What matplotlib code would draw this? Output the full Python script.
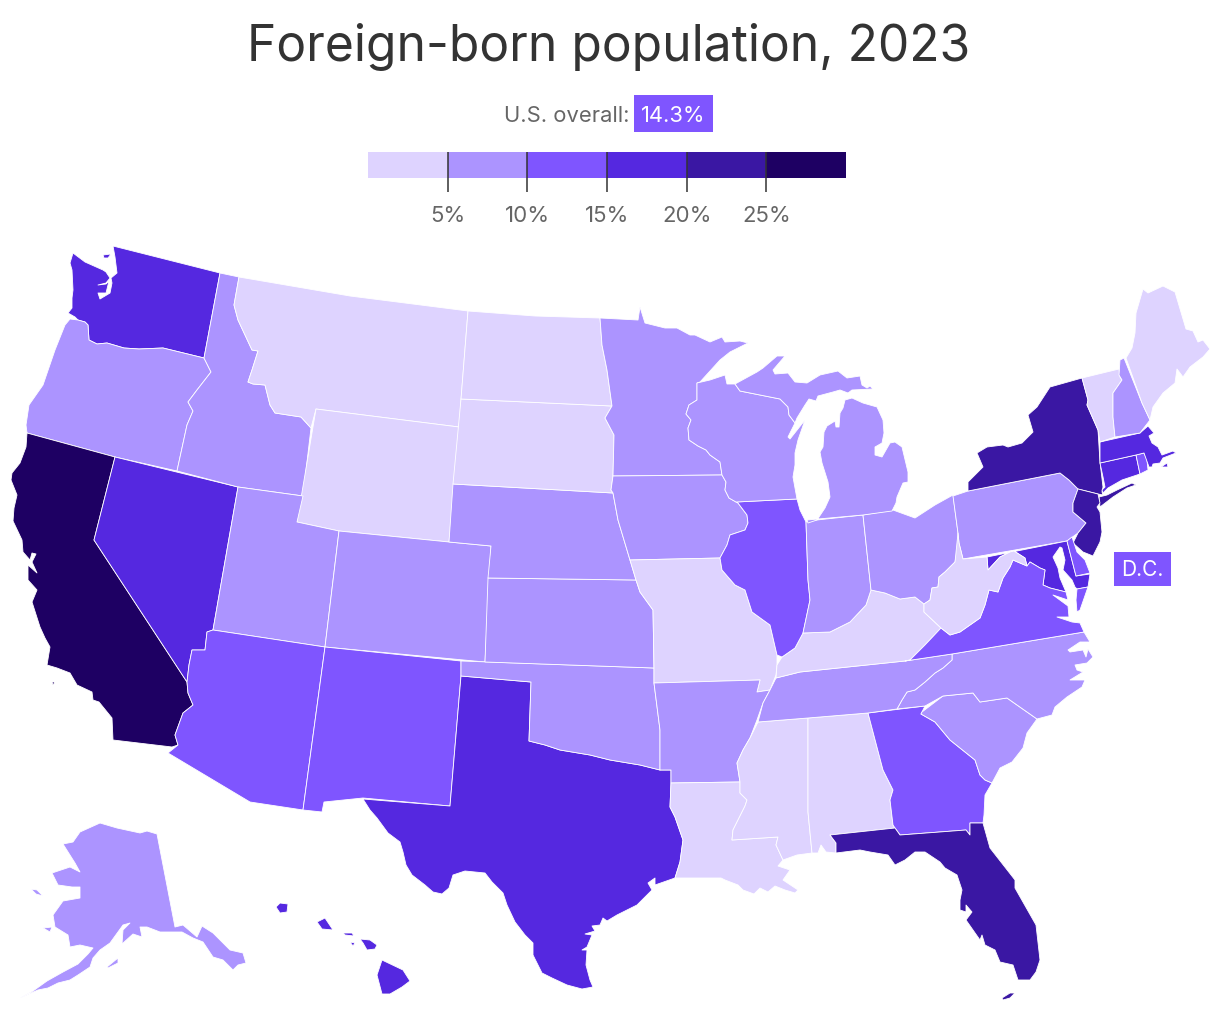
import matplotlib
matplotlib.use('Agg')
import matplotlib.pyplot as plt
from matplotlib.colors import ListedColormap, BoundaryNorm
from matplotlib.patches import Polygon, Rectangle

# bins and colours of the scale
bin_edges = [0, 5, 10, 15, 20, 25, 30]
bin_colors = ['#ded3ff', '#ac94ff', '#7f55ff', '#5528e0', '#3a17a3', '#1e0063']
tick_values = [5, 10, 15, 20, 25]
tick_labels = ['5%', '10%', '15%', '20%', '25%']
us_overall = 14.3
dc_value = 13.5

# share of foreign-born residents
pct = {'AL': 3.9, 'AK': 8.6, 'AZ': 13.3, 'AR': 5.9, 'CA': 26.6, 'CO': 9.6, 'CT': 15.9, 'DE': 10.5,
       'FL': 22.0, 'GA': 11.0, 'HI': 18.6, 'ID': 6.0, 'IL': 14.6, 'IN': 5.9, 'IA': 6.0, 'KS': 7.6,
       'KY': 4.3, 'LA': 4.4, 'ME': 3.9, 'MD': 16.6, 'MA': 18.0, 'MI': 7.0, 'MN': 8.9, 'MS': 2.4,
       'MO': 4.3, 'MT': 2.4, 'NE': 7.5, 'NV': 19.5, 'NH': 6.3, 'NJ': 24.0, 'NM': 10.2, 'NY': 22.7,
       'NC': 8.6, 'ND': 4.7, 'OH': 5.2, 'OK': 6.5, 'OR': 9.9, 'PA': 7.2, 'RI': 14.3, 'SC': 5.6,
       'SD': 3.7, 'TN': 5.5, 'TX': 17.5, 'UT': 8.5, 'VT': 4.0, 'VA': 12.9, 'WA': 15.7, 'WV': 1.7,
       'WI': 5.2, 'WY': 3.3}

WA = [[(113,246),(220,273),(204,358),(163,348),(139,349),(124,348),(107,343),(97,344),(89,340),(88,325),(85,322),(78,320),(75,317),(68,313),(72,308),(72,298),(73,290),(72,270),(70,263),(73,253),(85,262),(103,270),(106,272),(110,278),(106,283),(98,285),(106,284),(109,281),(106,293),(98,293),(100,299),(110,293),(112,283),(111,278),(117,273),(115,257)],
      [(103,255),(111,254),(108,258),(104,258)]]
OR = [[(204,358),(211,372),(197,390),(188,402),(193,411),(187,425),(177,471),(115,457),(27,433),(26,425),(29,405),(43,385),(55,350),(65,325),(70,319),(78,320),(85,322),(88,325),(89,340),(97,344),(107,343),(124,348),(139,349),(163,348)]]
CA = [[(27,433),(115,457),(94,540),(187,682),(188,693),(193,705),(183,713),(175,735),(178,745),(172,747),(113,740),(112,718),(99,702),(93,700),(92,692),(77,685),(70,673),(57,668),(47,665),(50,647),(45,638),(40,627),(32,602),(37,590),(28,580),(28,565),(37,573),(32,562),(36,554),(32,553),(30,560),(23,552),(22,540),(13,521),(14,508),(17,495),(11,480),(12,473),(20,463),(26,447)],
      [(52,682),(55,682),(53,685)]]
NV = [[(115,457),(238,487),(213,630),(207,632),(205,650),(192,650),(189,665),(187,682),(94,540)]]
ID = [[(220,273),(239,277),(234,305),(238,320),(245,335),(252,350),(258,351),(252,370),(248,382),(253,384),(265,385),(270,405),(275,413),(301,417),(311,428),(303,496),(238,487),(177,471),(187,425),(193,411),(188,402),(197,390),(211,372),(204,358)]]
MT = [[(239,277),(350,296),(468,311),(461,400),(459,427),(316,409),(311,428),(301,417),(275,413),(270,405),(265,385),(253,384),(248,382),(252,370),(258,351),(252,350),(245,335),(238,320),(234,305)]]
WY = [[(316,409),(459,427),(449,542),(339,531),(297,522)]]
UT = [[(238,487),(303,496),(297,522),(339,531),(325,647),(213,630)]]
CO = [[(339,531),(449,542),(491,546),(485,662),(325,647)]]
AZ = [[(213,630),(325,647),(303,810),(250,802),(168,753),(178,745),(175,735),(183,713),(193,705),(188,693),(187,682),(189,665),(192,650),(205,650),(207,632)]]
NM = [[(325,647),(461,661),(461,676),(450,806),(363,798),(324,802),(322,812),(303,810)]]
TX = [[(461,676),(531,682),(529,741),(545,745),(560,750),(590,755),(610,760),(640,765),(660,770),(671,770),(671,783),(670,807),(675,817),(683,840),(680,862),(675,878),(655,885),(655,878),(648,883),(652,890),(647,895),(637,905),(617,915),(607,921),(603,918),(600,925),(592,926),(595,931),(585,934),(592,935),(587,947),(582,950),(587,950),(586,965),(590,980),(593,987),(582,989),(567,985),(552,978),(542,973),(533,955),(533,943),(525,935),(515,922),(507,905),(503,893),(492,882),(485,873),(465,871),(453,875),(449,888),(442,894),(433,892),(425,885),(412,875),(406,865),(403,852),(400,842),(388,833),(377,818),(370,810),(363,799),(450,806)]]
OK = [[(461,661),(654,668),(654,683),(660,730),(660,770),(640,765),(610,760),(590,755),(560,750),(545,745),(529,741),(531,682),(461,676)]]
KS = [[(488,578),(636,580),(640,592),(653,610),(654,668),(485,662)]]
NE = [[(453,484),(613,493),(618,520),(630,560),(636,580),(488,578),(491,546),(449,542)]]
SD = [[(461,399),(612,406),(605,418),(614,435),(613,476),(611,490),(613,493),(453,484)]]
ND = [[(468,311),(535,316),(600,318),(602,345),(607,370),(612,406),(461,399)]]
MN = [[(600,318),(638,320),(640,307),(645,323),(665,328),(677,328),(690,335),(695,335),(710,342),(722,337),(725,342),(740,341),(748,343),(730,352),(720,360),(700,382),(697,383),(697,400),(689,405),(686,414),(691,420),(688,428),(689,440),(698,446),(706,450),(710,455),(720,462),(722,475),(613,476),(614,435),(605,418),(612,406),(607,370),(602,345)]]
IA = [[(613,476),(722,475),(726,482),(725,490),(729,498),(738,503),(747,515),(748,523),(745,530),(730,535),(727,545),(720,558),(630,560),(618,520),(613,493),(611,490)]]
MO = [[(630,560),(720,558),(722,570),(735,585),(745,590),(752,612),(770,625),(777,655),(777,665),(776,675),(770,690),(757,692),(760,680),(654,683),(654,668),(653,610),(640,592),(636,580)]]
AR = [[(654,683),(760,680),(757,692),(770,690),(763,703),(757,720),(750,738),(743,750),(737,763),(740,782),(671,783),(671,770),(660,770),(660,730)]]
LA = [[(671,783),(740,782),(740,793),(747,800),(745,806),(733,830),(732,840),(778,837),(776,845),(783,860),(778,866),(790,870),(783,880),(798,890),(795,893),(785,890),(775,886),(768,892),(760,888),(754,894),(743,890),(738,885),(725,880),(721,878),(675,878),(680,862),(683,840),(675,817),(670,807)]]
MS = [[(758,722),(808,718),(808,812),(812,853),(797,855),(783,860),(776,845),(778,837),(732,840),(733,830),(745,806),(747,800),(740,793),(740,782),(737,763),(743,750),(750,738)]]
AL = [[(808,718),(868,713),(883,770),(893,790),(890,800),(893,825),(895,828),(830,835),(836,843),(836,853),(826,852),(821,845),(818,853),(812,853),(808,812)]]
GA = [[(868,713),(925,706),(921,714),(935,722),(950,740),(960,748),(975,760),(980,775),(985,780),(992,783),(985,795),(984,815),(983,823),(970,823),(970,835),(966,830),(900,835),(895,828),(893,825),(890,800),(893,790),(883,770)]]
FL = [[(830,835),(895,828),(900,835),(966,830),(970,835),(970,823),(983,823),(990,848),(1015,880),(1015,888),(1036,925),(1040,960),(1036,972),(1030,980),(1018,980),(1013,965),(1000,962),(995,950),(985,945),(982,935),(980,940),(966,920),(972,912),(966,905),(966,912),(960,910),(960,900),(962,890),(957,875),(945,868),(940,862),(925,852),(915,852),(905,860),(895,865),(888,855),(870,852),(860,850),(836,853),(836,843)],
      [(1002,998),(1010,993),(1015,993),(1010,998),(1003,1000)]]
SC = [[(922,712),(943,696),(973,693),(980,702),(1007,698),(1037,719),(1027,733),(1023,748),(1012,762),(1000,768),(992,783),(985,780),(980,775),(975,760),(960,748),(950,740),(935,722),(921,714)]]
NC = [[(952,654),(1084,632),(1090,642),(1080,642),(1068,650),(1070,652),(1083,650),(1086,657),(1088,649),(1093,657),(1087,663),(1075,665),(1077,670),(1083,672),(1070,680),(1085,680),(1082,687),(1067,697),(1055,707),(1052,715),(1037,719),(1007,698),(980,702),(973,693),(943,696),(925,706),(897,709),(902,700),(907,692),(915,690),(925,682),(935,673),(943,668),(952,660)]]
TN = [[(776,678),(800,672),(905,661),(952,654),(952,660),(943,668),(935,673),(925,682),(915,690),(907,692),(902,700),(897,709),(868,713),(808,718),(758,722),(763,703),(770,690)]]
KY = [[(777,665),(782,657),(795,648),(803,633),(830,632),(850,622),(866,605),(871,590),(885,593),(900,599),(915,597),(924,604),(924,612),(941,628),(925,645),(910,660),(905,661),(800,672),(776,678)]]
IL = [[(736,502),(797,499),(800,510),(806,522),(808,580),(810,600),(803,633),(795,648),(782,657),(777,655),(770,625),(752,612),(745,590),(735,585),(722,570),(720,558),(727,545),(730,535),(745,530),(748,523),(747,515),(738,503)]]
IN = [[(806,522),(817,520),(863,515),(871,590),(866,605),(850,622),(830,632),(803,633),(810,600),(808,580)]]
OH = [[(863,515),(893,510),(915,518),(935,505),(953,495),(958,533),(959,543),(955,562),(945,572),(939,577),(938,587),(932,588),(930,600),(924,604),(915,597),(900,599),(885,593),(871,590)]]
WI = [[(697,383),(710,380),(725,375),(727,384),(735,384),(740,391),(780,399),(788,407),(789,415),(795,423),(788,437),(790,439),(805,420),(798,440),(795,453),(795,465),(793,477),(797,499),(736,502),(729,498),(725,490),(726,482),(722,475),(720,462),(710,455),(706,450),(698,446),(689,440),(688,428),(691,420),(686,414),(689,405),(697,400)]]
MI = [[(735,384),(757,372),(763,368),(777,356),(785,356),(773,370),(775,374),(788,373),(795,382),(807,383),(820,375),(838,371),(847,378),(860,376),(862,385),(867,388),(870,386),(873,389),(852,390),(848,393),(840,390),(833,392),(818,396),(816,401),(809,399),(805,405),(797,418),(795,423),(789,415),(788,407),(780,399),(740,391)],
      [(807,520),(863,515),(892,511),(896,503),(897,497),(903,483),(908,482),(908,472),(902,447),(895,442),(890,443),(882,457),(875,455),(875,447),(882,443),(884,433),(883,420),(877,407),(863,403),(852,398),(845,400),(843,408),(840,413),(839,427),(836,427),(835,421),(827,426),(824,432),(823,447),(820,452),(822,463),(828,482),(830,497),(825,508),(817,520),(808,523)]]
PA = [[(953,496),(968,491),(1060,473),(1069,480),(1078,489),(1073,503),(1073,512),(1086,523),(1078,533),(1067,541),(963,559),(959,543),(958,533)]]
NY = [[(968,491),(968,482),(983,467),(977,453),(987,447),(1003,445),(1008,447),(1022,443),(1033,432),(1028,415),(1037,407),(1050,387),(1082,378),(1088,400),(1087,405),(1098,430),(1100,462),(1103,487),(1102,492),(1103,495),(1098,494),(1078,489),(1069,480),(1060,473)],
      [(1099,497),(1100,507),(1113,497),(1127,488),(1136,485),(1132,483),(1117,490),(1107,495)]]
NJ = [[(1078,489),(1098,494),(1100,503),(1097,507),(1100,512),(1102,532),(1100,542),(1093,556),(1083,552),(1073,543),(1078,533),(1086,523),(1073,512),(1073,503)]]
CT = [[(1100,463),(1136,455),(1140,474),(1122,480),(1108,488),(1103,493),(1102,490),(1105,487),(1103,477)]]
RI = [[(1136,455),(1144,453),(1147,460),(1148,470),(1140,474)]]
MA = [[(1100,442),(1140,433),(1148,426),(1154,433),(1149,436),(1152,443),(1158,447),(1162,455),(1173,451),(1176,453),(1163,458),(1160,463),(1153,464),(1152,467),(1149,467),(1144,453),(1136,455),(1100,463)],
      [(1161,467),(1167,463),(1168,467)]]
VT = [[(1082,378),(1119,369),(1120,377),(1122,380),(1113,393),(1113,417),(1115,437),(1100,442),(1098,430),(1087,405),(1088,400)]]
NH = [[(1120,360),(1124,358),(1142,403),(1150,420),(1140,433),(1115,437),(1113,417),(1113,393),(1122,380),(1119,375)]]
ME = [[(1126,358),(1132,348),(1135,333),(1136,313),(1143,289),(1148,293),(1163,286),(1175,292),(1186,329),(1193,331),(1198,342),(1203,340),(1210,349),(1203,357),(1190,367),(1183,377),(1177,369),(1175,383),(1163,393),(1153,407),(1150,420),(1142,403)]]
MD = [[(987,557),(1067,541),(1076,576),(1090,574),(1088,587),(1077,589),(1075,587),(1072,580),(1063,570),(1065,560),(1062,548),(1060,547),(1053,557),(1058,568),(1060,578),(1066,592),(1050,588),(1043,585),(1045,570),(1040,568),(1030,562),(1027,566),(1025,558),(1014,551),(1010,552),(1000,557),(988,570)]]
DE = [[(1067,541),(1072,537),(1077,552),(1085,560),(1090,573),(1076,576)]]
VA = [[(910,660),(925,645),(941,628),(950,635),(960,632),(970,625),(980,618),(985,605),(989,590),(998,592),(1003,578),(1010,567),(1013,560),(1027,566),(1030,562),(1040,568),(1045,570),(1043,585),(1050,588),(1066,592),(1068,600),(1053,595),(1068,606),(1069,617),(1057,617),(1072,622),(1080,623),(1084,632),(952,654),(905,661)],
      [(1077,589),(1088,587),(1080,610),(1077,612),(1076,600)]]
WV = [[(958,533),(959,543),(963,559),(987,557),(988,570),(1000,557),(1010,552),(1014,551),(1025,558),(1027,566),(1013,560),(1010,567),(1003,578),(998,592),(989,590),(985,605),(980,618),(970,625),(960,632),(950,635),(941,628),(924,612),(924,604),(930,600),(932,588),(938,587),(939,577),(945,572),(955,562)]]
AK = [[(157,834),(175,927),(183,925),(197,937),(202,926),(213,933),(230,950),(243,953),(246,963),(238,965),(233,970),(223,960),(213,957),(203,942),(193,938),(182,932),(160,932),(147,927),(140,927),(142,937),(133,934),(122,944),(123,930),(130,923),(123,925),(110,943),(100,950),(93,958),(90,967),(78,975),(70,980),(58,983),(48,988),(38,990),(20,998),(33,991),(47,981),(63,972),(78,964),(88,954),(93,948),(80,945),(70,947),(68,935),(55,927),(53,915),(63,901),(80,898),(80,887),(72,887),(58,885),(52,873),(70,867),(80,872),(75,863),(63,844),(73,842),(80,832),(100,823),(117,828),(140,833),(147,831)],
      [(31,889),(37,890),(43,896),(36,894)],
      [(43,928),(52,927),(50,932)],
      [(107,967),(118,958),(118,963),(108,968)]]
HI = [[(382,960),(403,970),(410,981),(402,987),(390,994),(382,994),(377,975)],
      [(360,939),(370,940),(377,945),(375,949),(367,950),(363,943)],
      [(317,922),(325,918),(333,930),(322,929)],
      [(276,907),(280,903),(288,904),(287,912),(280,913)],
      [(343,933),(352,933),(354,936),(345,935)],
      [(350,942),(355,943),(353,946)]]

shapes = {'WA': WA, 'OR': OR, 'CA': CA, 'NV': NV, 'ID': ID, 'MT': MT, 'WY': WY, 'UT': UT, 'CO': CO, 'AZ': AZ,
          'NM': NM, 'TX': TX, 'OK': OK, 'KS': KS, 'NE': NE, 'SD': SD, 'ND': ND, 'MN': MN, 'IA': IA, 'MO': MO,
          'AR': AR, 'LA': LA, 'MS': MS, 'AL': AL, 'GA': GA, 'FL': FL, 'SC': SC, 'NC': NC, 'TN': TN, 'KY': KY,
          'IL': IL, 'IN': IN, 'OH': OH, 'WI': WI, 'MI': MI, 'PA': PA, 'NY': NY, 'NJ': NJ, 'CT': CT, 'RI': RI,
          'MA': MA, 'VT': VT, 'NH': NH, 'ME': ME, 'MD': MD, 'DE': DE, 'VA': VA, 'WV': WV, 'AK': AK, 'HI': HI}

plt.rcParams['font.family'] = ['Inter', 'DejaVu Sans']

W, H = 1220, 1010
cmap = ListedColormap(bin_colors)
norm = BoundaryNorm(bin_edges, cmap.N)

fig = plt.figure(figsize=(W / 100, H / 100), dpi=100)
ax = fig.add_axes([0, 0, 1, 1])
ax.set_xlim(0, W)
ax.set_ylim(H, 0)
ax.axis('off')

for name, parts in shapes.items():
    for part in parts:
        ax.add_patch(Polygon(part, closed=True, facecolor=cmap(norm(pct[name])),
                             edgecolor='white', linewidth=0.6, joinstyle='round'))

# title and the U.S. figure
ax.text(609, 47, 'Foreign-born population, 2023', ha='center', va='center', fontsize=35.8, color='#333333')
ax.text(629, 116, 'U.S. overall:', ha='right', va='center', fontsize=15.8, color='#666666')
ax.add_patch(Rectangle((634, 95), 79, 37, facecolor=cmap(norm(us_overall)), edgecolor='none'))
ax.text(673.5, 116, f'{us_overall}%', ha='center', va='center', fontsize=15.8, color='white')

# D.C. gets a box because it is too small on the map
ax.add_patch(Rectangle((1114, 552), 57, 34, facecolor=cmap(norm(dc_value)), edgecolor='none'))
ax.text(1142.5, 570, 'D.C.', ha='center', va='center', fontsize=15, color='white')

# legend bar
cax = fig.add_axes([368 / W, 1 - 178 / H, 478 / W, 26 / H])
for i in range(len(bin_colors)):
    cax.barh(0, bin_edges[i + 1] - bin_edges[i], left=bin_edges[i], height=1, color=bin_colors[i])
cax.set_xlim(0, 30)
cax.set_ylim(-0.5, 0.5)
cax.set_yticks([])
cax.set_xticks(tick_values)
cax.set_xticklabels(tick_labels, fontsize=16, color='#666666')
cax.tick_params(axis='x', length=10, width=1.1, color='#333333', pad=10)
cax.vlines(tick_values, -0.5, 0.5, color='#333333', linewidth=1.1)
for s in cax.spines.values():
    s.set_visible(False)

fig.savefig('out.png', dpi=100)
